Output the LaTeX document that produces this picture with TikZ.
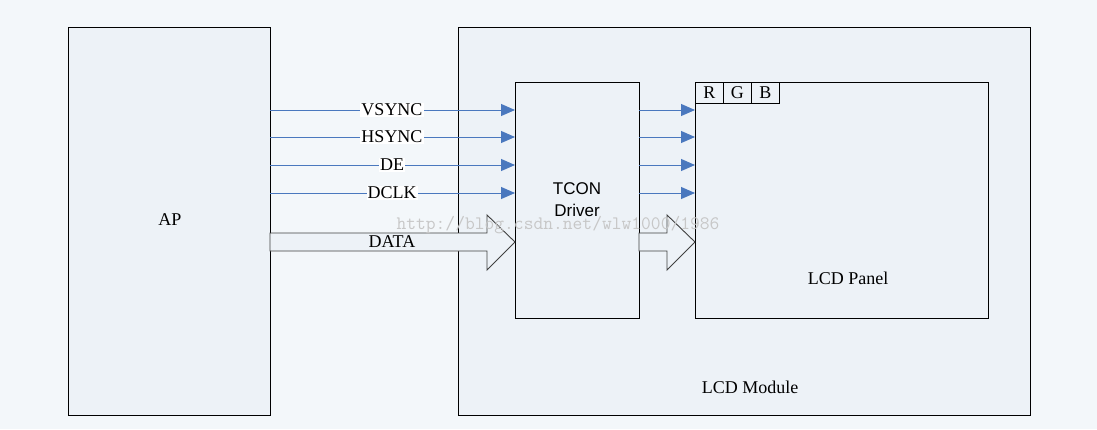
\documentclass[tikz,border=0pt]{standalone}
\usepackage{fontspec}
\setmainfont{Liberation Serif}
\newfontfamily\sansf{Liberation Sans}
\usetikzlibrary{arrows.meta}
\definecolor{bg}{HTML}{F3F7FA}
\definecolor{boxf}{HTML}{EDF2F7}
\definecolor{sig}{HTML}{4A78BE}
\begin{document}
\begin{tikzpicture}[x=1pt,y=-1pt,
  box/.style={draw=black,line width=1pt,fill=boxf},
  sigline/.style={draw=sig,line width=1pt,-{Triangle[length=14pt,width=12pt]}},
  lab/.style={fill=white,inner sep=1pt,font=\fontsize{18}{18}\selectfont},
  txt/.style={font=\fontsize{18}{18}\selectfont},
  fat/.style={draw=black!75,line width=0.9pt,fill=boxf}]
\fill[bg] (0,0) rectangle (1097,429);
\useasboundingbox (0,0) rectangle (1097,429);
\node[box,minimum width=202pt,minimum height=388pt,anchor=north west,inner sep=0] (ap) at (68,27) {};
\node[box,minimum width=572pt,minimum height=388pt,anchor=north west,inner sep=0] (mod) at (458,27) {};
\node[box,minimum width=124pt,minimum height=236pt,anchor=north west,inner sep=0] (tcon) at (515,82) {};
\node[box,minimum width=293pt,minimum height=236pt,anchor=north west,inner sep=0] (panel) at (695,82) {};
\foreach \n/\l [count=\i] in {r/R,g/G,b/B}
  \node[draw=black,line width=0.9pt,minimum width=28pt,minimum height=21pt,anchor=north west,inner sep=0,txt] (\n) at ({695+(\i-1)*28},82) {\l};
\node[txt] at (170,220) {AP};
\node[font=\sansf\fontsize{17}{22}\selectfont,align=center] at (577,200) {TCON\\Driver};
\node[txt] at (848,278) {LCD Panel};
\node[txt] at (750,387) {LCD Module};
\foreach \y/\l in {110/VSYNC,137/HSYNC,165/DE,193/DCLK}{
  \coordinate (a\y) at (270,\y); \coordinate (b\y) at (515,\y);
  \coordinate (c\y) at (639,\y); \coordinate (d\y) at (695,\y);
  \draw[sigline] (a\y) -- (b\y);
  \draw[sigline] (c\y) -- (d\y);
  \node[lab] at (392,\y) {\l};
}
\draw[fat] (270,233) -- (487,233) -- (487,215) -- (515,242) -- (487,270) -- (487,251) -- (270,251) -- cycle;
\draw[fat] (639,233) -- (667,233) -- (667,215) -- (695,242) -- (667,270) -- (667,251) -- (639,251) -- cycle;
\node[txt] at (392,242) {DATA};
\node[font=\ttfamily\fontsize{19}{19}\selectfont,text=black!22] at (558,225) {http://blog.csdn.net/wlw1000/1986};
\end{tikzpicture}
\end{document}
